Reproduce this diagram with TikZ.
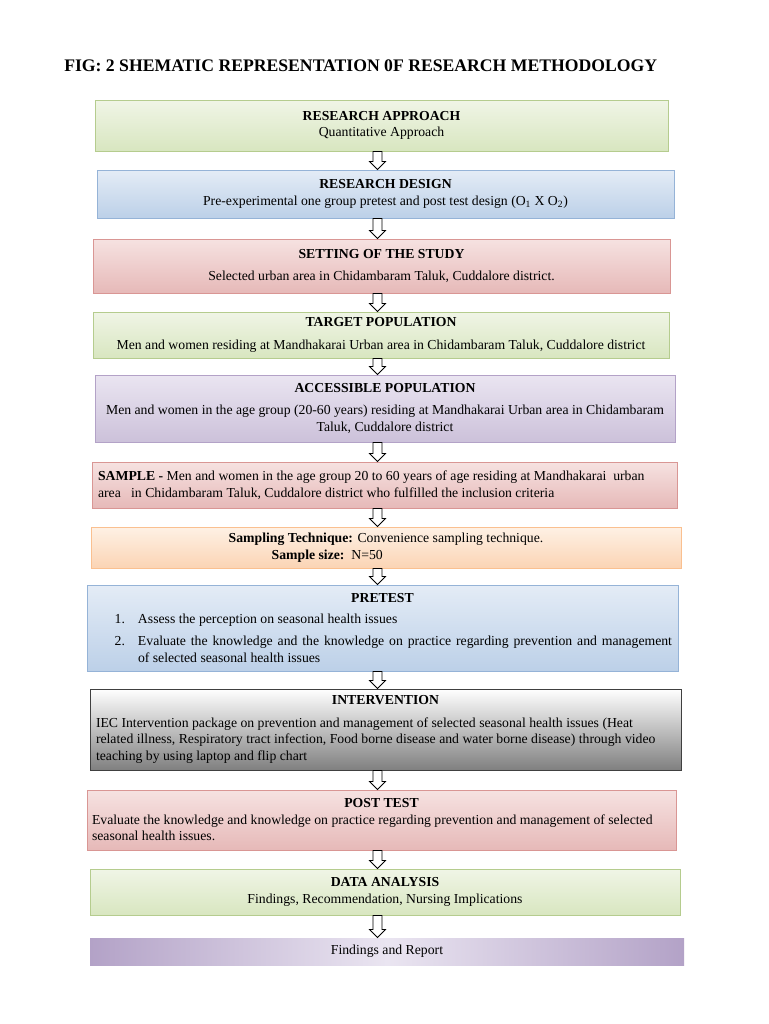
\documentclass[tikz,border=0pt]{standalone}
\usepackage{fontspec}
\setmainfont{Liberation Serif}
\usetikzlibrary{calc}
\definecolor{gtop}{HTML}{F0F5E6}\definecolor{gbot}{HTML}{D8E6C0}\definecolor{gbrd}{HTML}{B5CC8E}
\definecolor{btop}{HTML}{E4ECF6}\definecolor{bbot}{HTML}{BCD0E8}\definecolor{bbrd}{HTML}{95B3D7}
\definecolor{rtop}{HTML}{F6E2E1}\definecolor{rbot}{HTML}{E6B9B8}\definecolor{rbrd}{HTML}{D99694}
\definecolor{ptop}{HTML}{EAE5F1}\definecolor{pbot}{HTML}{CCC1DA}\definecolor{pbrd}{HTML}{B3A2C7}
\definecolor{otop}{HTML}{FEF1E5}\definecolor{obot}{HTML}{FBD4B4}\definecolor{obrd}{HTML}{FAC090}
\definecolor{kbrd}{HTML}{404040}
\tikzset{
  box/.style={rectangle, inner sep=0pt, line width=0.7pt, font=\fontsize{10.3}{12.4}\selectfont},
  cbox/.style={box, align=center},
  grnbox/.style={draw=gbrd, top color=gtop, bottom color=gbot},
  blubox/.style={draw=bbrd, top color=btop, bottom color=bbot},
  redbox/.style={draw=rbrd, top color=rtop, bottom color=rbot},
  purbox/.style={draw=pbrd, top color=ptop, bottom color=pbot},
  orabox/.style={draw=obrd, top color=otop, bottom color=obot},
  graybox/.style={draw=kbrd, top color=white, bottom color=black!50},
  finbox/.style={left color=pbrd, right color=pbrd, middle color=ptop},
  hollow/.style={draw=black, line width=0.6pt, fill=white,
    to path={let \p1=(\tikztostart), \p2=(\tikztotarget) in
      (\x1-3.4pt,\y1) -- (\x1+3.4pt,\y1) -- (\x1+3.4pt,\y2+6pt) -- (\x1+6pt,\y2+6pt)
      -- (\x1,\y2) -- (\x1-6pt,\y2+6pt) -- (\x1-3.4pt,\y2+6pt) -- cycle}},
  title/.style={inner sep=0pt, anchor=west, font=\fontsize{13.25}{15}\selectfont\bfseries}
}
\begin{document}
\begin{tikzpicture}[x=0.75pt,y=-0.75pt]
\useasboundingbox (0,0) rectangle (768,1024);
\fill[white] (0,0) rectangle (768,1024);
\node[title] (ttl) at (64,66) {FIG: 2 SHEMATIC REPRESENTATION 0F RESEARCH METHODOLOGY};

\node[cbox, grnbox, minimum width=429.75pt, minimum height=38.25pt] (ra) at (381.5,125.5)
  {\textbf{RESEARCH APPROACH}\\Quantitative Approach};
\node[cbox, blubox, minimum width=432.75pt, minimum height=36pt] (rd) at (385.5,194)
  {\textbf{RESEARCH DESIGN}\\Pre-experimental one group pretest and post test design (O\textsubscript{1} X O\textsubscript{2})};
\node[cbox, redbox, minimum width=432.75pt, minimum height=40.5pt] (st) at (381.5,266)
  {\textbf{SETTING OF THE STUDY}\\[4.5pt]Selected urban area in Chidambaram Taluk, Cuddalore district.};
\node[cbox, grnbox, minimum width=432pt, minimum height=34.5pt] (tp) at (381,335)
  {\textbf{TARGET POPULATION}\\[4.5pt]Men and women residing at Mandhakarai Urban area in Chidambaram Taluk, Cuddalore district};
\node[cbox, purbox, minimum width=435pt, minimum height=50.25pt] (ap) at (385,408.5)
  {\textbf{ACCESSIBLE POPULATION}\\[4.5pt]Men and women in the age group (20-60 years) residing at Mandhakarai Urban area in Chidambaram\\Taluk, Cuddalore district};
\node[box, redbox, minimum width=438.75pt, minimum height=34.5pt] (sa) at (384.5,485)
  {\begin{minipage}{429.75pt}\raggedright
   \textbf{SAMPLE -} Men and women in the age group 20 to 60 years of age residing at Mandhakarai\ \ urban\\
   area\ \ \ in Chidambaram Taluk, Cuddalore district who fulfilled the inclusion criteria\end{minipage}};
\node[box, align=left, orabox, minimum width=442.5pt, minimum height=30.75pt] (sm) at (386,547.5)
  {\textbf{Sampling Technique:} Convenience sampling technique.\\
   \hspace*{32.25pt}\textbf{Sample size:}\ \ N=50};
\node[box, blubox, minimum width=443.25pt, minimum height=64.5pt] (pr) at (382.5,628)
  {\begin{minipage}{434.25pt}
   {\centering\textbf{PRETEST}\par}\vspace{3pt}
   \leftskip=33.75pt\parindent=0pt
   \noindent\llap{1.\hspace{9.75pt}}Assess the perception on seasonal health issues\par\vspace{4.5pt}
   \noindent\llap{2.\hspace{9.75pt}}Evaluate the knowledge and the knowledge on practice regarding prevention and management\linebreak
   of selected seasonal health issues\par\end{minipage}};
\node[box, graybox, minimum width=443.25pt, minimum height=60.75pt] (in) at (385.5,729.5)
  {\begin{minipage}{434.25pt}
   {\centering\textbf{INTERVENTION}\par}\vspace{4.5pt}
   \raggedright IEC Intervention package on prevention and management of selected seasonal health issues (Heat\\
   related illness, Respiratory tract infection, Food borne disease and water borne disease) through video\\
   teaching by using laptop and flip chart\end{minipage}};
\node[box, redbox, minimum width=441.75pt, minimum height=45pt] (po) at (381.5,820)
  {\begin{minipage}{434.25pt}
   {\centering\textbf{POST TEST}\par}
   \raggedright Evaluate the knowledge and knowledge on practice regarding prevention and management of selected\\
   seasonal health issues.\end{minipage}};
\node[cbox, grnbox, minimum width=442.5pt, minimum height=34.5pt] (da) at (385,892)
  {\textbf{DATA ANALYSIS}\\Findings, Recommendation, Nursing Implications};
\node[cbox, finbox, minimum width=445.5pt, minimum height=20.25pt] (fr) at (387,951.5)
  {Findings and Report};

\coordinate (ax) at (377.5,0);
\foreach \a/\b in {ra/rd, rd/st, st/tp, tp/ap, ap/sa, sa/sm, sm/pr, pr/in, in/po, po/da, da/fr}
  \draw[hollow] (\a.south -| ax) to (\b.north -| ax);
\end{tikzpicture}
\end{document}
